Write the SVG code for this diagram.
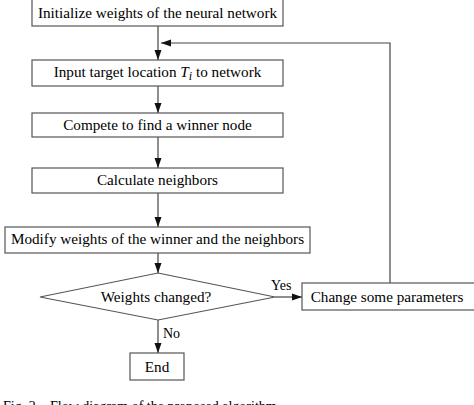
<svg xmlns="http://www.w3.org/2000/svg" width="474" height="405" viewBox="0 0 474 405">
<defs>
<style>
.box{fill:#fff;stroke:#555;stroke-width:1.2}
.t{font-family:"Liberation Serif","Times New Roman",serif;font-size:15.2px;fill:#000;text-anchor:middle}
.l{font-family:"Liberation Serif","Times New Roman",serif;font-size:14px;fill:#000}
.c{fill:none;stroke:#444;stroke-width:1.2}
</style>
<marker id="ah" viewBox="0 0 10 10" refX="10" refY="5" markerWidth="10" markerHeight="10" markerUnits="userSpaceOnUse" orient="auto"><path d="M0,1.5 L10,5 L0,8.5 Z" fill="#111"/></marker>
</defs>
<rect width="474" height="405" fill="#fff"/>
<g id="connectors">
<line class="c" x1="158" y1="26" x2="158" y2="60" marker-end="url(#ah)"/>
<line class="c" x1="158" y1="86" x2="158" y2="113" marker-end="url(#ah)"/>
<line class="c" x1="158" y1="137" x2="158" y2="168" marker-end="url(#ah)"/>
<line class="c" x1="158" y1="193" x2="158" y2="227" marker-end="url(#ah)"/>
<line class="c" x1="158" y1="253" x2="158" y2="273" marker-end="url(#ah)"/>
<line class="c" x1="158" y1="320" x2="158" y2="353" marker-end="url(#ah)"/>
<line class="c" x1="275" y1="297" x2="302" y2="297" marker-end="url(#ah)"/>
<polyline class="c" points="390,283 390,43 161,43" marker-end="url(#ah)"/>
<text class="l" x="271" y="290">Yes</text>
<text class="l" x="163" y="338">No</text>
</g>
<g id="n1"><rect class="box" x="32" y="-5" width="251" height="31"/><text class="t" x="157.5" y="18">Initialize weights of the neural network</text></g>
<g id="n2"><rect class="box" x="32" y="60" width="251" height="26"/><text class="t" x="157.5" y="77">Input target location <tspan font-style="italic">T</tspan><tspan font-style="italic" font-size="12" dy="3">i</tspan><tspan dy="-3"> to network</tspan></text></g>
<g id="n3"><rect class="box" x="32" y="113" width="251" height="24"/><text class="t" x="157.5" y="130">Compete to find a winner node</text></g>
<g id="n4"><rect class="box" x="32" y="168" width="251" height="25"/><text class="t" x="157.5" y="185">Calculate neighbors</text></g>
<g id="n5"><rect class="box" x="5" y="227" width="305" height="26"/><text class="t" x="157.5" y="244">Modify weights of the winner and the neighbors</text></g>
<g id="n6"><polygon class="box" points="158,273 275,297 158,320 40,297"/><text class="t" x="156" y="302">Weights changed?</text></g>
<g id="n7"><rect class="box" x="302" y="283" width="175" height="27"/><text class="t" x="387" y="302">Change some parameters</text></g>
<g id="n8"><rect class="box" x="130" y="353" width="54" height="27"/><text class="t" x="157" y="372">End</text></g>
<text class="l" x="3" y="411" font-size="14.5">Fig. 2<tspan x="50">Flow diagram of the proposed algorithm</tspan></text>
</svg>
